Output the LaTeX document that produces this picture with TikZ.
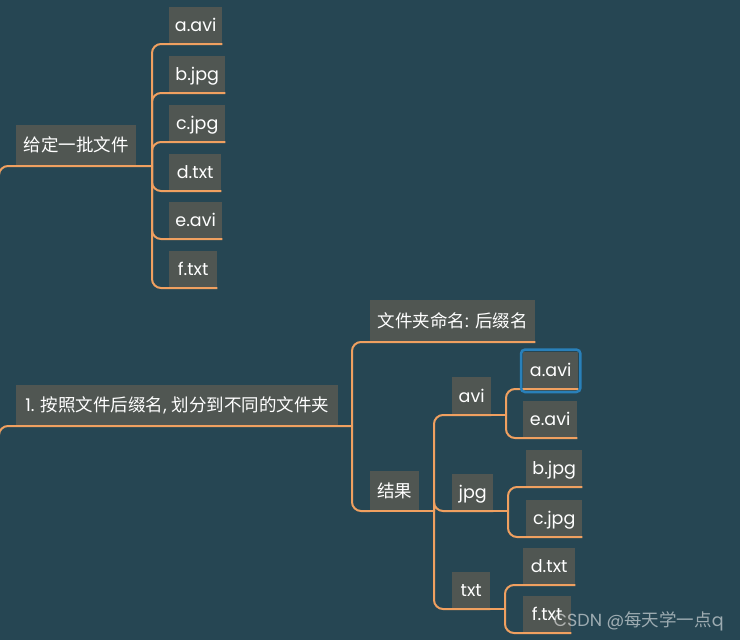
\documentclass[tikz,border=0pt]{standalone}
\usepackage{fontspec}
\setmainfont{Poppins}
\newfontfamily\cjk{Noto Sans CJK SC}
\definecolor{bg}{RGB}{38,70,83}
\definecolor{boxfill}{RGB}{80,86,82}
\definecolor{edgecol}{RGB}{240,160,96}
\definecolor{selcol}{RGB}{41,128,185}
\begin{document}
\begin{tikzpicture}[x=1pt,y=-1pt,
  box/.style={fill=boxfill, text=white, anchor=south west, inner xsep=0pt, inner ysep=0pt,
    font=\fontsize{17.5}{20}\selectfont, align=center, text height=14pt, text depth=1pt},
  edge/.style={draw=edgecol, line width=2pt, rounded corners=9pt},
  straight/.style={draw=edgecol, line width=2pt}]
\fill[bg] (0,0) rectangle (740,640);
\useasboundingbox (0,0) rectangle (740,640);
% group 1
\node[box, minimum width=120pt, minimum height=41pt] (r1) at (16,166) {{\cjk 给定一批文件}};
\node[box, minimum width=53pt, minimum height=37pt] (a1) at (169,44) {a.avi};
\node[box, minimum width=56pt, minimum height=37pt] (b1) at (169,93) {b.jpg};
\node[box, minimum width=56pt, minimum height=37pt] (c1) at (169,142) {c.jpg};
\node[box, minimum width=52pt, minimum height=37pt] (d1) at (169,191) {d.txt};
\node[box, minimum width=53pt, minimum height=37pt] (e1) at (169,239) {e.avi};
\node[box, minimum width=48pt, minimum height=37pt] (f1) at (169,288) {f.txt};
\coordinate (t1) at (152,166);
\coordinate (s1) at (-1,190);
\draw[edge] (s1) |- (t1);
\foreach \c in {a1,b1,c1,d1,e1,f1} \draw[edge] (t1) |- (\c.south east);
% group 2
\node[box, minimum width=322pt, minimum height=41pt] (r2) at (16,426) {1. {\cjk 按照文件后缀名}, {\cjk 划分到不同的文件夹}};
\node[box, minimum width=165pt, minimum height=42pt] (n2) at (370,342) {{\cjk 文件夹命名}: {\cjk 后缀名}};
\node[box, minimum width=49pt, minimum height=40pt] (j2) at (370,511) {{\cjk 结果}};
\coordinate (t2) at (352,426);
\coordinate (s2) at (-1,450);
\draw[edge] (s2) |- (t2);
\draw[edge] (t2) |- (n2.south east);
\draw[edge] (t2) |- (j2.south west);
\draw[straight] (j2.south west) -- (j2.south east);
\node[box, minimum width=39pt, minimum height=38pt] (avi) at (452,415) {avi};
\node[box, minimum width=41pt, minimum height=37pt] (jpg) at (452,511) {jpg};
\node[box, minimum width=38pt, minimum height=37pt] (txt) at (452,609) {txt};
\coordinate (t3) at (434,511);
\draw[straight] (j2.south east) -- (t3);
\foreach \c in {avi,jpg,txt} \draw[edge] (t3) |- (\c.south east);
\node[box, minimum width=55pt, minimum height=37pt] (a2) at (523,389) {a.avi};
\node[box, minimum width=54pt, minimum height=37pt] (e2) at (523,438) {e.avi};
\node[box, minimum width=56pt, minimum height=37pt] (b2) at (526,487) {b.jpg};
\node[box, minimum width=56pt, minimum height=37pt] (c2) at (526,537) {c.jpg};
\node[box, minimum width=52pt, minimum height=37pt] (d2) at (523,585) {d.txt};
\node[box, minimum width=48pt, minimum height=37pt] (f2) at (523,633) {f.txt};
\coordinate (ta) at (506,415);
\coordinate (tj) at (508,511);
\coordinate (tt) at (505,609);
\draw[straight] (avi.south east) -- (ta);
\draw[straight] (jpg.south east) -- (tj);
\draw[straight] (txt.south east) -- (tt);
\foreach \c in {a2,e2} \draw[edge] (ta) |- (\c.south east);
\foreach \c in {b2,c2} \draw[edge] (tj) |- (\c.south east);
\foreach \c in {d2,f2} \draw[edge] (tt) |- (\c.south east);
\draw[selcol, line width=2.5pt, rounded corners=4pt] ([shift={(-2,-2)}]a2.north west) rectangle ([shift={(2,3)}]a2.south east);
% watermark
\node[anchor=east, text=white, opacity=0.55, font=\fontsize{17.5}{20}\selectfont, inner sep=0pt] (wm) at (724,621) {CSDN @{\cjk 每天学一点}q};
\end{tikzpicture}
\end{document}
